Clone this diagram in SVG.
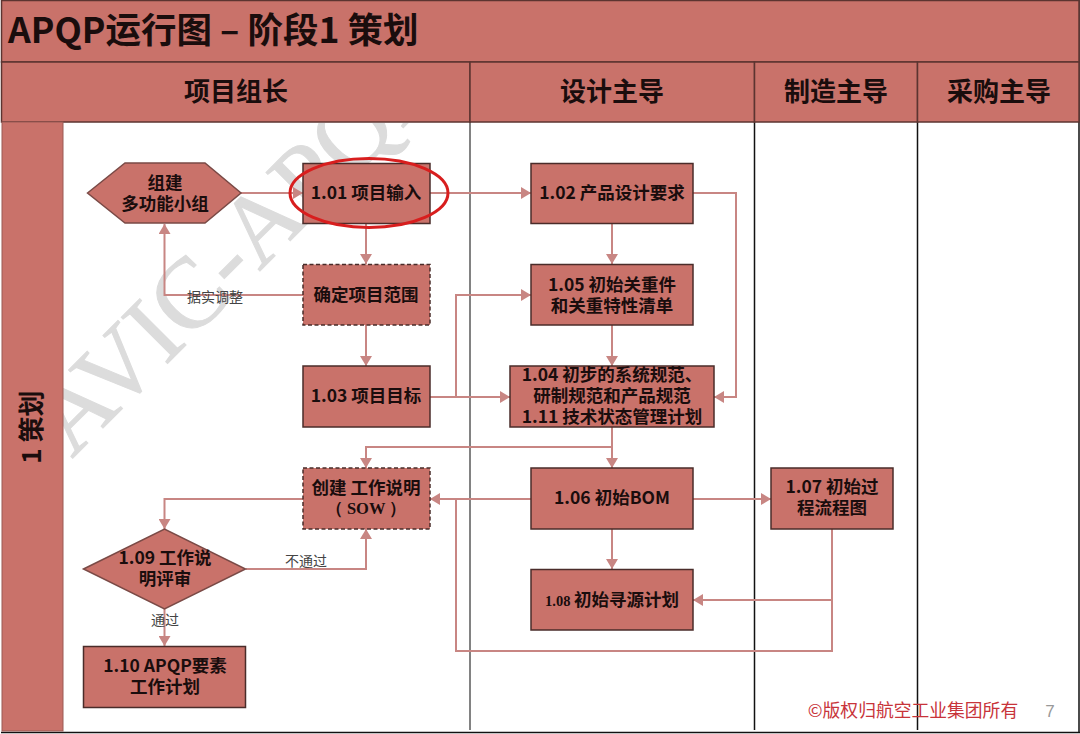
<svg xmlns="http://www.w3.org/2000/svg" width="1080" height="734" viewBox="0 0 1080 734">
<style>
text{font-family:"Liberation Sans","Noto Sans CJK SC",sans-serif;font-weight:700;fill:#1a0d0d;text-anchor:middle}
.cjk{font-family:"Noto Sans CJK SC","Noto Sans",sans-serif}
.band{fill:#c9726a;stroke:#5c3430;stroke-width:1.5}
.box{fill:#c9726a;stroke:#4a2c2a;stroke-width:1.5}
.dash{stroke-dasharray:4 2.5}
.n{font-size:17.500px}
.h{font-size:26px}
.l{font-size:14px;font-weight:400;fill:#444}
.lane{stroke:#111;stroke-width:1.5;fill:none}
.c{fill:none;stroke:#c88683;stroke-width:2}
.wm{font-family:"Liberation Serif",serif;font-size:100px;font-weight:400;fill:#dcdcdc;stroke:#dcdcdc;stroke-width:1;text-anchor:start}
</style>
<defs>
<marker id="a" markerUnits="userSpaceOnUse" markerWidth="11" markerHeight="12" refX="10" refY="6" orient="auto"><path d="M0 0L10 6L0 12z" fill="#c88683"/></marker>
<clipPath id="wc"><rect x="63" y="123" width="400" height="400"/></clipPath>
</defs>
<rect width="1080" height="734" fill="#fff"/>
<g clip-path="url(#wc)"><text class="wm" transform="translate(72 459) rotate(-45)">AVIC-APQP</text></g>
<g id="lanes">
<path class="lane" d="M470 122V730" stroke-opacity=".7"/>
<path class="lane" d="M754.500 122V730M917.500 122V730"/>
<path class="lane" d="M1 732.500H1080M1079 0V732"/>
</g>
<g id="title"><rect class="band" x="1.500" y="0.500" width="1077.500" height="61.500"/>
<text class="cjk" x="8" y="43" font-size="35.500" style="text-anchor:start">APQP运行图 – 阶段1 策划</text></g>
<g id="header-1"><rect class="band" x="1.500" y="62" width="468.500" height="60"/><text class="cjk h" x="236" y="101">项目组长</text></g>
<g id="header-2"><rect class="band" x="470" y="62" width="284.500" height="60"/><text class="cjk h" x="612" y="101">设计主导</text></g>
<g id="header-3"><rect class="band" x="754.500" y="62" width="163" height="60"/><text class="cjk h" x="836" y="101">制造主导</text></g>
<g id="header-4"><rect class="band" x="917.500" y="62" width="161.500" height="60"/><text class="cjk h" x="999" y="101">采购主导</text></g>
<g id="phase"><rect x="2" y="122" width="61" height="609" fill="#c9726a" stroke="#9a5a55"/>
<text class="cjk" transform="translate(41 427) rotate(-90)" font-size="26">1 策划</text></g>
<g id="connectors">
<path class="c" d="M241 193H303" marker-end="url(#a)"/>
<path class="c" d="M430 193H531" marker-end="url(#a)"/>
<path class="c" d="M366 223V264" marker-end="url(#a)"/>
<path class="c" d="M303 295H164.500V224" marker-end="url(#a)"/>
<path class="c" d="M366 325V366" marker-end="url(#a)"/>
<path class="c" d="M430 397H510" marker-end="url(#a)"/>
<path class="c" d="M456 397V295H531" marker-end="url(#a)"/>
<path class="c" d="M612 223V264" marker-end="url(#a)"/>
<path class="c" d="M612 325V366" marker-end="url(#a)"/>
<path class="c" d="M693 193H736V397H714" marker-end="url(#a)"/>
<path class="c" d="M612 427V468" marker-end="url(#a)"/>
<path class="c" d="M612 447H366V468" marker-end="url(#a)"/>
<path class="c" d="M531 499H430" marker-end="url(#a)"/>
<path class="c" d="M693 499H771" marker-end="url(#a)"/>
<path class="c" d="M612 529V569" marker-end="url(#a)"/>
<path class="c" d="M832 529V600H693" marker-end="url(#a)"/>
<path class="c" d="M832 600V651H456V499"/>
<path class="c" d="M303 499H164.500V529" marker-end="url(#a)"/>
<path class="c" d="M246 569H366V529" marker-end="url(#a)"/>
<path class="c" d="M164.500 609V646" marker-end="url(#a)"/>
</g>
<g id="label-adjust"><text class="cjk l" x="215" y="302">据实调整</text></g>
<g id="label-fail"><text class="cjk l" x="306" y="566">不通过</text></g>
<g id="label-pass"><text class="cjk l" x="165" y="625">通过</text></g>
<g id="n-team"><path class="box" style="stroke:#7a4a46" d="M87.500 193L125 163H205L241 193L205 223H125z"/><text class="cjk n" x="165" y="189">组建</text><text class="cjk n" x="165" y="209.500">多功能小组</text></g>
<g id="n-101"><rect class="box" x="303" y="163.500" width="127" height="60"/><text class="cjk n" x="366" y="199">1.01 项目输入</text></g>
<g id="n-102"><rect class="box" x="531" y="163.500" width="162" height="60"/><text class="cjk n" x="612" y="199">1.02 产品设计要求</text></g>
<g id="n-scope"><rect class="box dash" x="303" y="264.500" width="127" height="60.500"/><text class="cjk n" x="366" y="301">确定项目范围</text></g>
<g id="n-105"><rect class="box" x="531" y="264.500" width="162" height="60.500"/><text class="cjk n" x="612" y="291">1.05 初始关重件</text><text class="cjk n" x="612" y="312">和关重特性清单</text></g>
<g id="n-103"><rect class="box" x="303" y="366" width="127" height="61"/><text class="cjk n" x="366" y="402">1.03 项目目标</text></g>
<g id="n-104"><rect class="box" x="510" y="366" width="204" height="61"/><text class="cjk n" x="612" y="381">1.04 初步的系统规范、</text><text class="cjk n" x="612" y="402">研制规范和产品规范</text><text class="cjk n" x="612" y="423">1.11 技术状态管理计划</text></g>
<g id="n-sow"><rect class="box dash" x="303" y="468" width="127" height="61"/><text class="cjk n" x="366" y="494">创建 工作说明</text><text x="366" y="514" font-size="16.500" style="font-family:'Liberation Serif',serif">（ SOW ）</text></g>
<g id="n-106"><rect class="box" x="531" y="468" width="162" height="61"/><text class="cjk n" x="612" y="504">1.06 初始BOM</text></g>
<g id="n-107"><rect class="box" x="771" y="468" width="122" height="61"/><text class="cjk n" x="832" y="493">1.07 初始过</text><text class="cjk n" x="832" y="514">程流程图</text></g>
<g id="n-108"><rect class="box" x="531" y="569.500" width="162" height="60.500"/><text class="cjk n" x="612" y="606"><tspan style="font-family:'Liberation Serif',serif" font-size="14.500">1.08 </tspan>初始寻源计划</text></g>
<g id="n-109"><path class="box" style="stroke:#7a4a46" d="M83.500 569L164.500 529L245.500 569L164.500 609z"/><text class="cjk n" x="165" y="564">1.09 工作说</text><text class="cjk n" x="165" y="585">明评审</text></g>
<g id="n-110"><rect class="box" x="83.500" y="646.500" width="162" height="61"/><text class="cjk n" x="165" y="672">1.10 APQP要素</text><text class="cjk n" x="165" y="692.500">工作计划</text></g>
<ellipse id="highlight" cx="369" cy="193" rx="79" ry="34.500" fill="none" stroke="#d81e1e" stroke-width="3"/>
<g id="footer"><text class="cjk" x="913" y="717" font-size="17.800" style="font-weight:400;fill:#c8343a">©版权归航空工业集团所有</text>
<text x="1050" y="717" font-size="17" style="font-weight:400;fill:#999">7</text></g>
</svg>
